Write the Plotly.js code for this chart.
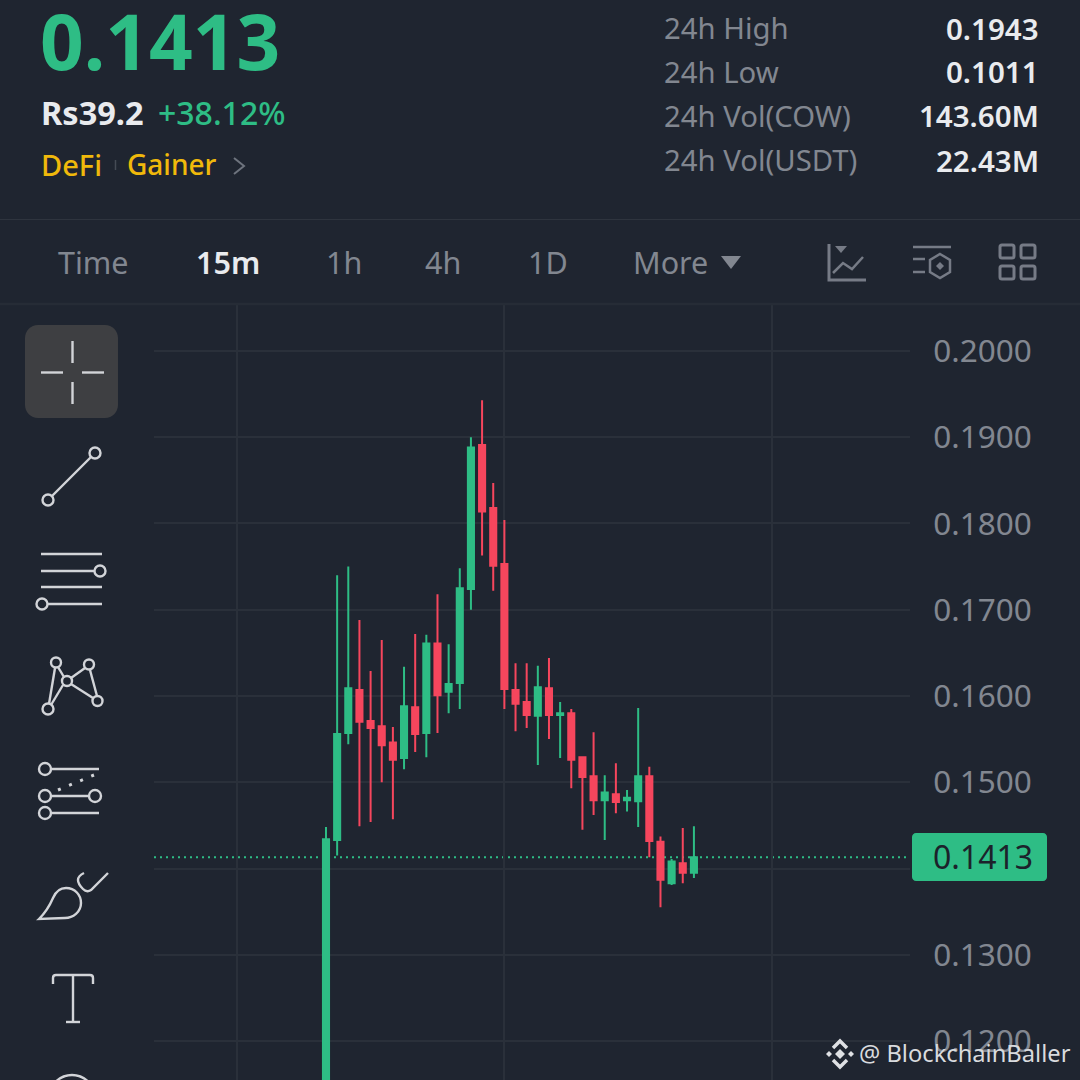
<!DOCTYPE html>
<html>
<head>
<meta charset="utf-8">
<script src="https://cdn.plot.ly/plotly-3.0.1.min.js"></script>
<style>html,body{margin:0;padding:0;background:#1f2530;overflow:hidden}#chart{width:1080px;height:1080px}</style>
</head>
<body>
<div id="chart"></div>
<script>
// ---- data ----
const candleIndex = [0,1,2,3,4,5,6,7,8,9,10,11,12,13,14,15,16,17,18,19,20,21,22,23,24,25,26,27,28,29,30,31,32,33];
const opens  = [0.1023,0.1433,0.1557,0.1607,0.1571,0.1565,0.1546,0.1528,0.1587,0.1557,0.1661,0.1605,0.1615,0.1724,0.1891,0.1818,0.1753,0.1607,0.1593,0.1577,0.1609,0.1578,0.1580,0.1529,0.1507,0.1479,0.1486,0.1479,0.1478,0.1507,0.1431,0.1383,0.1406,0.1395];
const highs  = [0.1448,0.1740,0.1750,0.1688,0.1629,0.1665,0.1564,0.1634,0.1672,0.1671,0.1718,0.1660,0.1748,0.1900,0.1943,0.1847,0.1804,0.1638,0.1638,0.1635,0.1644,0.1593,0.1585,0.1529,0.1558,0.1508,0.1522,0.1491,0.1586,0.1518,0.1437,0.1411,0.1447,0.1449];
const lows   = [0.1011,0.1415,0.1544,0.1449,0.1454,0.1500,0.1457,0.1515,0.1535,0.1529,0.1557,0.1580,0.1585,0.1700,0.1763,0.1722,0.1585,0.1559,0.1563,0.1520,0.1550,0.1528,0.1493,0.1445,0.1462,0.1433,0.1464,0.1466,0.1448,0.1413,0.1355,0.1381,0.1383,0.1389];
const closes = [0.1434,0.1556,0.1609,0.1570,0.1563,0.1543,0.1526,0.1588,0.1556,0.1661,0.1601,0.1614,0.1725,0.1888,0.1814,0.1751,0.1608,0.1591,0.1578,0.1610,0.1578,0.1580,0.1526,0.1506,0.1479,0.1488,0.1477,0.1482,0.1507,0.1432,0.1387,0.1408,0.1395,0.1413];
const priceTicks = [0.12,0.13,0.14,0.15,0.16,0.17,0.18,0.19,0.20];
// 0.1400 sits fully hidden under the last-price tag in the reference
const priceTickLabels = ["0.1200","0.1300","","0.1500","0.1600","0.1700","0.1800","0.1900","0.2000"];
const timeGridIndex = [-8,16,40];
const lastPrice = 0.1413;
const lastPriceLabel = "0.1413";
const fiatLine = "Rs39.2";
const changeLine = "+38.12%";
const tagNames = ["DeFi","Gainer"];
const statLabels = ["24h High","24h Low","24h Vol(COW)","24h Vol(USDT)"];
const statValues = ["0.1943","0.1011","143.60M","22.43M"];
const intervals = ["Time","15m","1h","4h","1D","More"];
const watermark = "@ BlockchainBaller";

// ---- styling / page geometry ----
const BG="#1f2530", GREEN="#2ebd85", RED="#f6465d", YELLOW="#f0b90b", GREY="#828790", WHITE="#e9ebee", ICON="#d2d4d8", TOOL="#767b86", GRID="#2a303a";
const IW=2.4;
const L=154,R=910,T=305,B=1080;
const fx=x=>(x-L)/(R-L), fy=y=>1-(y-T)/(B-T);
const P=(x,y)=>fx(x).toFixed(5)+" "+fy(y).toFixed(5);
const shapes=[], annotations=[];
const base={xref:"paper",yref:"paper"};
function poly(pts,color,w,fill,close){
  const d="M"+pts.map(p=>P(p[0],p[1])).join(" L")+(close?" Z":"");
  shapes.push({...base,type:"path",path:d,line:{color:color,width:w},fillcolor:fill||"rgba(0,0,0,0)",layer:"above"});
}
function curve(d,color,w,fill){
  const s=d.map(c=>{ let o=c[0]; for(let i=1;i<c.length;i+=2){o+=(i>1?" ":"")+P(c[i],c[i+1]);} return o; }).join(" ");
  shapes.push({...base,type:"path",path:s,line:{color:color,width:w},fillcolor:fill||"rgba(0,0,0,0)",layer:"above"});
}
function circ(cx,cy,r,color,w,fill){
  shapes.push({...base,type:"circle",x0:fx(cx-r),x1:fx(cx+r),y0:fy(cy+r),y1:fy(cy-r),line:{color:color,width:w},fillcolor:fill||"rgba(0,0,0,0)",layer:"above"});
}
function rrect(x0,y0,x1,y1,r,color,w,fill){
  const k=r*0.45;
  curve([["M",x0+r,y0],["L",x1-r,y0],["C",x1-k,y0,x1,y0+k,x1,y0+r],["L",x1,y1-r],["C",x1,y1-k,x1-k,y1,x1-r,y1],["L",x0+r,y1],["C",x0+k,y1,x0,y1-k,x0,y1-r],["L",x0,y0+r],["C",x0,y0+k,x0+k,y0,x0+r,y0],["Z"]],color,w,fill);
}
function txt(s,x,y,size,color,anchor,weight,family){
  const a=anchor||"left";
  const dx=a==="left"?-2:(a==="right"?2:0);
  annotations.push({...base,x:fx(x+dx),y:fy(y-1),text:s,showarrow:false,xanchor:a,yanchor:"middle",borderpad:0,
    font:{family:family||'"Noto Sans",sans-serif',size:size,color:color,weight:weight||400}});
}

// Section separators
poly([[0,219.5],[1080,219.5]],"#2e343e",1.2);
poly([[0,304],[1080,304]],"#262c36",2.5);

// Header
txt(lastPriceLabel,41,41,76.5,GREEN,"left",700);
txt(fiatLine,42,114,32.5,WHITE,"left",700);
txt(changeLine,159,114,32,GREEN,"left",500);
txt(tagNames[0],42,165,29,YELLOW,"left",500);
poly([[115.5,160],[115.5,170]],"#454b55",1.5);
txt(tagNames[1],128,165,28,YELLOW,"left",500);
poly([[234,158],[244,166],[234,174]],"#6e747e",2);

// Stats
const statY=[29,73,117,161];
statLabels.forEach((s,i)=>txt(s,665,statY[i],29.3,GREY,"left",400));
statValues.forEach((s,i)=>txt(s,1038,statY[i],29.5,WHITE,"right",600));

// Interval bar
const intervalX=[58,197,327,426,529,634];
intervals.forEach((s,i)=>txt(s,intervalX[i]+(i===0?1:0),263.5,30.5,i===1?WHITE:GREY,"left",i===1?600:400));
poly([[721,256],[741,256],[731,269]],GREY,0,GREY,true);

// Top right tool icons
poly([[829,244],[829,280],[866,280]],TOOL,3);
poly([[835,246],[847,246],[841,253]],TOOL,0,TOOL,true);
poly([[833,273],[843,263],[852,269],[863,257]],TOOL,2.5);
poly([[913,247],[951,247]],TOOL,2.5);
poly([[913,259],[925,259]],TOOL,2.5);
poly([[913,272],[925,272]],TOOL,2.5);
poly([[940,254],[950,260],[950,272],[940,278],[930,272],[930,260]],TOOL,2.5,null,true);
poly([[940,262],[944,266],[940,270],[936,266]],TOOL,0,TOOL,true);
rrect(1000,245,1014,258,2,TOOL,3);
rrect(1021,245,1035,258,2,TOOL,3);
rrect(1000,266,1014,279,2,TOOL,3);
rrect(1021,266,1035,279,2,TOOL,3);

// Left drawing toolbar
rrect(25,325,118,418,13,"#3e3f42",0,"#3e3f42");
poly([[72.5,341],[72.5,363]],ICON,IW);
poly([[72.5,382],[72.5,404]],ICON,IW);
poly([[41,372.5],[63,372.5]],ICON,IW);
poly([[82,372.5],[104,372.5]],ICON,IW);

poly([[91,457],[52,496]],ICON,IW);
circ(95,453,5.5,ICON,IW);
circ(48,500,5.5,ICON,IW);

poly([[41,554],[102,554]],ICON,IW);
poly([[41,571],[95,571]],ICON,IW);
circ(100,571,5.5,ICON,IW);
poly([[41,587],[102,587]],ICON,IW);
poly([[48,604],[102,604]],ICON,IW);
circ(42,604,5.5,ICON,IW);

poly([[55,668],[49,704]],ICON,IW);
poly([[58,667],[64,677]],ICON,IW);
poly([[71,678],[85,668]],ICON,IW);
poly([[90,670],[97,696]],ICON,IW);
poly([[71,684],[93,698]],ICON,IW);
poly([[63,685],[51,705]],ICON,IW);
circ(56,662.5,5,ICON,IW);
circ(89,664.5,5,ICON,IW);
circ(67,681,5,ICON,IW);
circ(48,709,5.5,ICON,IW);
circ(97.5,701,5,ICON,IW);

poly([[51,769],[99,769]],ICON,IW);
circ(45,769,6,ICON,IW);
shapes.push({...base,type:"line",x0:fx(58),y0:fy(790),x1:fx(94),y1:fy(775),line:{color:ICON,width:3,dash:"3px,9px"},layer:"above"});
poly([[51,796],[89,796]],ICON,IW);
circ(45,796,6,ICON,IW);
circ(95,796,6,ICON,IW);
poly([[51,813],[99,813]],ICON,IW);
circ(45,813,6,ICON,IW);

curve([["M",84,873],["C",80,875,78,877,78,880],["C",78,883,80,886,83,889],["C",85,891,88,892,91,890],["L",108,873]],ICON,IW);
curve([["M",39,919],["C",47,911,50,905,53,898],["C",56,891,61,888,66,888],["C",75,888,81,895,81,903],["C",81,912,73,918,65,918],["Z"]],ICON,IW);

curve([["M",53,984],["L",53,978],["C",53,976,54,975,56,975],["L",90,975],["C",92,975,93,976,93,978],["L",93,984]],ICON,IW);
poly([[73,975],[73,1022]],ICON,IW);
poly([[66,1022],[80,1022]],ICON,IW);
circ(72,1098,23,ICON,IW);

// Last price tag
rrect(912,833,1047,881,4,GREEN,0,GREEN);
txt(lastPriceLabel,983,857,32,"#1c222b","center",400);

// Watermark
const LOGO="#dfe1e4";
poly([[840,1049],[845,1054],[840,1059],[835,1054]],LOGO,0,LOGO,true);
poly([[829,1051],[832,1054],[829,1057],[826,1054]],LOGO,0,LOGO,true);
poly([[851,1051],[854,1054],[851,1057],[848,1054]],LOGO,0,LOGO,true);
poly([[833,1048],[840,1041],[847,1048]],LOGO,3.5);
poly([[833,1060],[840,1067],[847,1060]],LOGO,3.5);
txt(watermark,860,1054,23.7,"#d9dbde","left",400);

// Last price dotted line below the candles
shapes.push({type:"line",xref:"paper",yref:"y",x0:0,x1:1,y0:lastPrice,y1:lastPrice,layer:"below",line:{color:GREEN,width:2,dash:"2px,4px"}});

const trace={
  type:"candlestick",x:candleIndex,open:opens,high:highs,low:lows,close:closes,
  increasing:{line:{color:GREEN,width:2},fillcolor:GREEN},
  decreasing:{line:{color:RED,width:2},fillcolor:RED},
  whiskerwidth:0,hoverinfo:"skip",showlegend:false
};
const layout={
  width:1080,height:1080,paper_bgcolor:BG,plot_bgcolor:BG,showlegend:false,boxgap:0.22,
  margin:{l:L,r:1080-R,t:T,b:1080-B,pad:0},
  font:{family:'"Noto Sans",sans-serif',color:GREY},
  xaxis:{range:[-15.426,52.38],rangeslider:{visible:false},tickmode:"array",tickvals:timeGridIndex,showticklabels:false,ticks:"",
    showgrid:true,gridcolor:GRID,gridwidth:2,zeroline:false,showline:false,fixedrange:true},
  yaxis:{range:[0.11548,0.20533],side:"right",tickmode:"array",tickvals:priceTicks,ticktext:priceTickLabels,
    ticks:"outside",ticklen:16,tickcolor:"rgba(0,0,0,0)",ticklabelshift:-1.5,tickfont:{size:31.5,color:GREY,family:'"Noto Sans",sans-serif'},
    showgrid:true,gridcolor:GRID,gridwidth:2,zeroline:false,showline:false,fixedrange:true},
  shapes:shapes,annotations:annotations
};
Plotly.newPlot("chart",[trace],layout,{displayModeBar:false,staticPlot:true});
</script>
</body>
</html>
